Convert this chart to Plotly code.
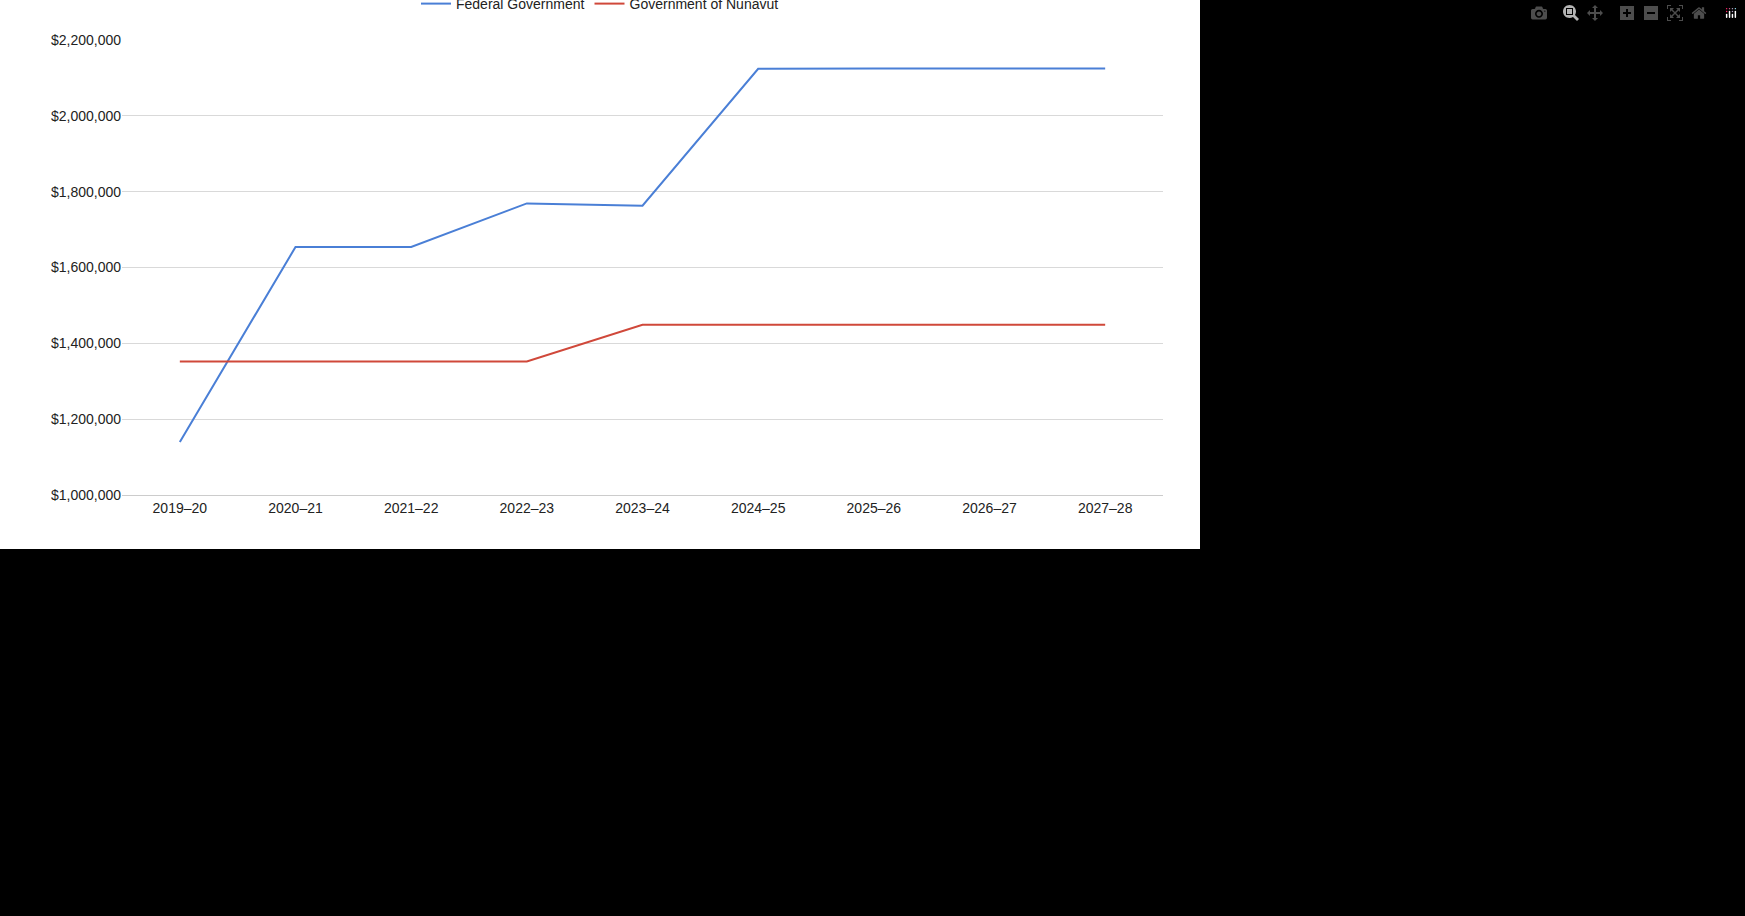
import plotly.graph_objects as go

categories = ["2019–20","2020–21","2021–22","2022–23","2023–24","2024–25","2025–26","2026–27","2027–28"]
federal = [1140000,1654000,1654000,1769000,1763000,2124000,2125000,2125000,2125000]
nunavut = [1352000,1352000,1352000,1352000,1449000,1449000,1449000,1449000,1449000]

fig = go.Figure()
fig.add_trace(go.Scatter(x=categories, y=federal, mode="lines", name="Federal Government",
                         line=dict(color="#4a7fd6", width=2)))
fig.add_trace(go.Scatter(x=categories, y=nunavut, mode="lines", name="Government of Nunavut",
                         line=dict(color="#d0483a", width=2)))

W, H = 1745, 916
l, r, t, b = 122, W-1163, 40, H-495
pw, ph = W-l-r, H-t-b
fig.update_layout(
    width=W, height=H, margin=dict(l=l, r=r, t=t, b=b, autoexpand=False),
    paper_bgcolor="black", plot_bgcolor="white",
    font=dict(family="Liberation Sans, Arial", size=14, color="#222"),
    shapes=[dict(type="rect", xref="paper", yref="paper", layer="below",
                 x0=-l/pw, x1=(1200-l)/pw, y0=1-(549-t)/ph, y1=1+t/ph,
                 fillcolor="white", line=dict(width=0))],
    legend=dict(orientation="h", x=(600-l)/pw, xanchor="center", y=1+(t-4)/ph, yanchor="middle",
                bgcolor="rgba(0,0,0,0)", font=dict(size=14, color="#222")),
    xaxis=dict(range=[-0.5, 8.5], showgrid=False, showline=True, linecolor="#ccc",
               ticks="", tickfont=dict(color="#222")),
    yaxis=dict(range=[1000000, 2200000], dtick=200000, tickformat="$,.0f",
               gridcolor="#d9d9d9", zeroline=False, ticks="", tickfont=dict(color="#222")),
)
fig.write_html("out.html", post_script="document.body.style.margin='0';document.body.style.background='black';")
